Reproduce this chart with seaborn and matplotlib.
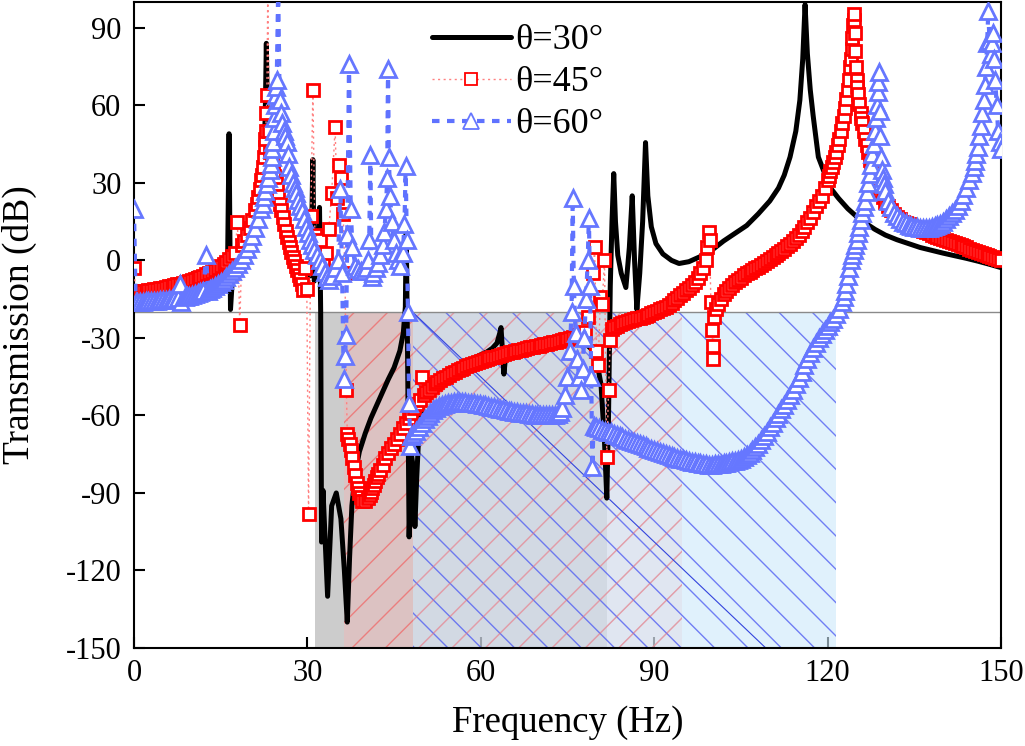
import matplotlib
matplotlib.use("Agg")
import matplotlib.pyplot as plt
import pandas as pd
import seaborn as sns

# ---------------- data ----------------
labels = ["θ=30°", "θ=45°", "θ=60°"]

# theta = 30 deg  (frequency Hz, transmission dB)
pts30 = [(0,-14),(1,-14),(2,-13.8),(3,-13.6),(4,-13.3),(5,-13),(6,-12.6),(7,-12.2),(8,-11.7),(9,-11.2),
         (9.8,-10.6),(10.2,-5),(10.5,-11),(11,-10),(12,-9),(13,-8),(14,-6.8),(15,-5.3),(15.8,-3.5),(16.2,0),
         (16.45,49),(16.7,-19),(17,-8),(17.5,-3),(18,0),(18.5,2.5),(19,5),(19.5,7.5),(20,10.5),(20.5,14),
         (21,18),(21.5,23),(22,30),(22.4,40),(22.7,55),(22.9,84),(23.1,55),(23.4,40),(23.8,32),(24.3,25),
         (25,18),(25.7,12),(26.5,7),(27.3,3),(28,0),(29,-3),(30,-5),(30.6,-6),(30.95,39),(31.2,-8),
         (31.5,-2),(31.8,4),(32.1,20.5),(32.3,-20),(32.45,-109),(32.7,-89),(33.5,-130),(34.2,-95),(35,-90),
         (35.8,-100),(36.4,-120),(36.9,-140),(37.3,-115),(37.7,-95),(38.3,-82),(39,-74),(40,-67),(41,-61),
         (42,-56),(43,-51),(44,-46),(45,-41.5),(46,-35),(46.6,-28),(46.95,-18),(47.1,13),(47.35,-40),
         (47.6,-107),(48,-75),(48.3,-80),(48.6,-103),(48.9,-85),(49.4,-61),(50,-56),(51,-52),(52,-49),
         (53,-47),(54,-45),(55,-43),(56,-41.5),(57,-40),(58,-38.8),(59,-37.6),(60,-36.5),(61,-35.5),
         (62,-34),(62.8,-32),(63.3,-28),(63.5,-26),(63.7,-33),(64,-44),(64.3,-37),(65,-36),(66,-35),
         (68,-33.5),(70,-32.5),(72,-31.5),(74,-30.5),(76,-30),(77,-30.5),(78,-32),(79,-34),(79.9,-37),
         (80.8,-48),(81.4,-70),(81.8,-92),(82.1,-60),(82.4,-10),(82.7,15),(83,33.6),(83.3,15),(83.7,2),
         (84.3,-5),(85.1,-10.5),(85.7,5),(86.2,25),(86.6,0),(87,-19),(87.5,-5),(88,15),(88.5,45.6),
         (88.9,25),(89.5,13),(90.3,6.5),(91.5,2.5),(93,0),(94.3,-1.2),(96,-0.5),(97.7,1.2),(99,2.5),
         (100,4),(102,7.5),(104,10.5),(106,13.5),(108,18),(110,23),(111.5,28),(112.5,33),(113.5,40),
         (114.5,50),(115.2,62),(115.7,78),(116.1,99),(116.5,80),(117,66),(117.5,56),(118.4,40),(119.6,33),
         (120.5,28),(121.9,24),(123.5,20),(125,17),(126.5,14.5),(128.2,12),(130,9.8),(132,8),(134,6.5),
         (136,5),(138,3.9),(140,2.8),(142,1.8),(144,0.8),(146,-0.3),(148,-1.5),(150,-2.8)]

# theta = 45 deg
pts45 = [(0,-3),(0.3,-12),(1,-12),(1.5,-11.8),(2,-11.7),(2.5,-11.6),(3,-11.4),(3.5,-11.2),(4,-11),
         (4.5,-10.8),(5,-10.5),(5.5,-10.3),(6,-10),(6.5,-9.8),(7,-9.5),(7.5,-9.2),(8,-9),(8.5,-8.6),
         (9,-8.3),(9.5,-7.9),(10,-7.5),(10.5,-7.1),(11,-6.7),(11.5,-6.3),(12,-5.9),(12.5,-5.4),(13,-4.9),
         (13.5,-4.3),(14,-3.7),(14.5,-3),(15,-2.3),(15.5,-1.5),(16,-0.6),(16.5,0.4),(17,1.6),(17.5,3),
         (17.9,15),(18.3,-25),(18.7,5.8),(19,7.5),(19.5,9.8),(20,12.5),(20.5,15.5),(21,19.5),(21.25,22),
         (21.5,24.5),(21.75,27.5),(22,31),(22.15,33),(22.3,36),(22.45,40),(22.6,44),(22.7,47),(22.8,50),
         (22.9,57),(23,64),(23.15,105),(23.4,50),(23.6,42),(23.8,38),(24,35),(24.25,32.5),(24.5,30),
         (24.75,27.5),(25,25),(25.25,22),(25.5,19.5),(25.75,16.7),(26,14),(26.25,11.5),(26.5,9),(26.75,7),
         (27,5),(27.25,3.2),(27.5,1.5),(27.75,-0.3),(28,-2),(28.25,-3.8),(28.5,-5.5),(28.75,-7.2),(29,-9),
         (29.3,-11.5),(29.6,-3),(29.9,-11),(30.2,-98),(30.6,17),(30.95,66),(31.3,10),(31.7,5),(32.2,8),
         (32.7,0),(33.2,3),(33.7,12),(34.2,26),(34.8,51.5),(35.1,24),(35.5,37),(35.9,32),(36.2,18),
         (36.5,-5),(36.75,-50),(36.9,-67),(37.1,-69),(37.3,-71),(37.5,-73.5),(37.75,-76.5),(38,-80),
         (38.25,-83),(38.5,-86),(38.75,-88),(39,-90),(39.25,-91.5),(39.5,-93),(40,-93),(40.5,-92),
         (40.75,-90.8),(41,-89.5),(41.25,-88.2),(41.5,-87),(41.75,-85.5),(42,-84),(42.25,-82.5),(42.5,-81),
         (43,-79),(43.5,-76.5),(44,-74.5),(44.5,-72.5),(45,-71),(45.5,-69),(46,-67),(46.5,-65),(47,-63),
         (47.5,-61),(48,-59),(48.5,-57),(49,-55.5),(49.5,-54),(49.9,-45),(50.2,-52),(50.6,-51),(51,-50),
         (51.5,-49),(52,-48),(52.5,-47.1),(53,-46.3),(53.5,-45.6),(54,-45),(54.5,-44.3),(55,-43.7),
         (55.5,-43.1),(56,-42.5),(56.5,-42),(57,-41.5),(57.5,-41),(58,-40.5),(58.5,-40.1),(59,-39.7),
         (59.5,-39.3),(60,-39),(60.5,-38.6),(61,-38.2),(61.5,-37.8),(62,-37.5),(62.5,-37.2),(63,-36.9),
         (63.5,-36.6),(64,-36.3),(64.5,-35.9),(65,-35.6),(65.5,-35.3),(66,-35),(66.5,-34.7),(67,-34.5),
         (67.5,-34.2),(68,-34),(68.5,-33.7),(69,-33.5),(69.5,-33.2),(70,-33),(70.5,-32.7),(71,-32.5),
         (71.5,-32.2),(72,-32),(72.5,-31.7),(73,-31.4),(73.5,-31.1),(74,-30.8),(74.5,-30.5),(75,-30.3),
         (75.5,-30),(76,-29.8),(76.5,-29.4),(77,-29),(77.5,-28.5),(78,-27.8),(78.5,-22),(79,-15),(79.4,-5),
         (79.7,5),(80,-35),(80.3,-40.5),(80.7,-14),(81,-17),(81.4,0),(81.8,-76),(82.1,-50),(82.4,-31),
         (82.7,-26.5),(83,-25.8),(83.5,-25.2),(84,-24.6),(84.5,-24.2),(85,-23.8),(85.5,-23.4),(86,-23),
         (86.5,-22.7),(87,-22.4),(87.5,-22.1),(88,-21.8),(88.5,-21.4),(89,-21),(89.5,-20.5),(90,-20),
         (90.5,-19.5),(91,-19),(91.5,-18.5),(92,-18),(92.5,-17.3),(93,-16.5),(93.5,-15.5),(94,-14.5),
         (94.5,-13.5),(95,-12.5),(95.5,-11.5),(96,-10.5),(96.5,-9.5),(97,-8.5),(97.5,-7),(98,-5),(98.5,-3),
         (98.9,0),(99.2,5),(99.4,11),(99.6,8),(99.8,-16),(100,-27),(100.1,-33),(100.2,-38),(100.4,-22),
         (100.7,-19),(101,-17),(101.5,-15),(102,-13),(102.5,-11.7),(103,-10.5),(103.5,-9.5),(104,-8.5),
         (104.5,-7.6),(105,-6.7),(105.5,-5.8),(106,-5),(106.5,-4.3),(107,-3.7),(107.5,-3.1),(108,-2.5),
         (108.5,-1.7),(109,-1),(109.5,-0.2),(110,0.5),(110.5,1.2),(111,2),(111.5,2.7),(112,3.5),
         (112.5,4.5),(113,5.5),(113.5,6.5),(114,7.5),(114.5,8.7),(115,10),(115.5,11.5),(116,13),
         (116.5,14.7),(117,16.5),(117.5,18.7),(118,21),(118.5,23),(119,25),(119.5,28),(120,31),
         (120.25,32.7),(120.5,34.5),(120.75,36.2),(121,38),(121.25,40),(121.5,42),(121.75,44.5),(122,47),
         (122.25,50),(122.5,53),(122.75,56),(123,59),(123.25,62.5),(123.5,66),(123.7,70),(123.9,75),
         (124.05,78),(124.2,82),(124.3,86),(124.4,91),(124.5,93),(124.6,95.5),(124.7,88),(124.8,81),
         (124.9,75),(125,70),(125.15,67),(125.3,64.5),(125.5,60.5),(125.7,57),(125.85,55),(126,53),
         (126.25,50),(126.5,47),(126.75,44.5),(127,42),(127.25,39),(127.5,36),(127.75,34),(128,32),
         (128.5,29.3),(129,27),(129.5,24.5),(130,22.5),(130.5,21),(131,19.5),(131.5,18.1),(132,16.8),
         (132.5,15.9),(133,15),(133.5,14.5),(134,14),(134.5,13.5),(135,13),(135.5,12.5),(136,12),
         (136.5,11.5),(137,11),(137.5,10.5),(138,10),(138.5,9.5),(139,9),(139.5,8.6),(140,8.2),(140.5,7.8),
         (141,7.4),(141.5,7),(142,6.6),(142.5,6.2),(143,5.8),(143.5,5.4),(144,5),(144.5,4.6),(145,4.2),
         (145.5,3.8),(146,3.4),(146.5,3),(147,2.6),(147.5,2.2),(148,1.8),(148.5,1.4),(149,1),(149.5,0.5),
         (150,0)]

# theta = 60 deg
pts60 = [(0,20),(0.3,-16),(0.6,-16),(1,-16),(1.5,-16),(2,-15.9),(2.5,-15.85),(3,-15.8),(3.5,-15.7),
         (4,-15.6),(4.5,-15.5),(5,-15.4),(5.5,-15.25),(6,-15.1),(6.5,-14.95),(7,-14.8),(7.6,-14.5),
         (7.9,-9),(8.2,-16),(8.8,-14),(9.2,-13.8),(9.5,-13.6),(10,-13.3),(10.5,-13),(11,-12.6),(11.5,-12.2),
         (12,-11.8),(12.5,2),(12.8,-12),(13.2,-11),(13.5,-10.5),(14,-9.9),(14.5,-9.2),(15,-8.4),(15.5,-7.5),
         (16,-6.5),(16.5,-5.4),(17,-4.2),(17.5,-2.9),(18,-1.4),(18.5,0.3),(19,2.2),(19.5,4.3),(20,6.8),
         (20.5,9.5),(21,12.6),(21.5,16.2),(22,20),(22.25,22),(22.5,24.5),(22.75,27),(23,29.5),(23.25,32),
         (23.5,35),(23.65,37.5),(23.8,40),(23.95,43),(24.1,46),(24.2,50),(24.3,55),(24.4,60),(24.5,64),
         (24.6,67),(24.7,70),(24.95,105),(25.2,62),(25.4,57),(25.6,53),(25.9,50),(26.15,48),(26.4,46),
         (26.65,41),(26.9,36),(27.2,33),(27.5,30),(27.8,28),(28.1,26),(28.4,23.5),(28.7,21),(29,19),
         (29.4,16),(29.8,13),(30.15,10.5),(30.5,8),(30.85,6),(31.2,4),(31.6,2),(32.1,0),(32.5,-2),(33,-4.5),
         (33.4,-6.5),(33.8,-7.7),(34.3,-6),(34.8,-3),(35.3,0),(35.7,27.7),(36,-5),(36.3,-46),(36.5,-37),
         (36.7,-29),(36.9,10),(37.2,76),(37.5,20),(37.8,5),(38.3,-2),(38.8,-3.5),(39.3,-4),(39.8,-4),
         (40.2,-3),(40.5,0),(40.7,8),(40.9,40.6),(41.1,-6.4),(41.4,-5),(41.8,-3),(42.2,-1),(42.6,2),(43,6),
         (43.3,11),(43.6,20),(43.8,32),(43.95,74),(44.1,40),(44.3,25),(44.6,15),(44.9,8),(45.3,3),(45.7,0),
         (46.1,-2),(46.5,3),(46.8,14),(47,36.7),(47.2,8),(47.4,-20),(47.6,-55),(47.8,-72),(48,-68),
         (48.3,-67),(48.8,-66),(49.3,-64.5),(49.8,-63),(50.3,-61.5),(50.8,-60.2),(51.3,-59),(51.8,-58),
         (52.3,-57.1),(52.8,-56.4),(53.3,-55.9),(53.8,-55.5),(54.3,-55.2),(54.8,-55),(55.3,-54.9),
         (55.8,-54.8),(56.3,-54.8),(56.8,-54.8),(57.3,-54.9),(57.8,-55),(58.3,-55.1),(58.8,-55.2),
         (59.3,-55.4),(59.8,-55.6),(60.3,-55.9),(60.8,-56.1),(61.3,-56.4),(61.8,-56.6),(62.3,-56.9),
         (62.8,-57.1),(63.3,-57.4),(63.8,-57.6),(64.3,-57.9),(64.8,-58.1),(65.3,-58.3),(65.8,-58.5),
         (66.3,-58.7),(66.8,-58.9),(67.3,-59.1),(67.8,-59.2),(68.3,-59.4),(68.8,-59.5),(69.3,-59.7),
         (69.8,-59.8),(70.3,-59.9),(70.8,-60),(71.3,-60),(71.8,-60),(72.3,-60),(72.8,-59.9),(73.3,-59.4),
         (73.7,-58.5),(74,-57),(74.5,-52),(75,-45),(75.4,-35),(75.7,-20),(75.9,24),(76.1,-10),(76.4,-28),
         (76.7,-38),(77,-45),(77.3,-50),(77.6,-42),(77.9,-30),(78.2,-15),(78.5,0),(78.7,16.6),(78.9,-10),
         (79.1,-45),(79.3,-80),(79.5,-64),(80,-64.5),(80.5,-65),(81,-65.5),(81.5,-65.9),(82,-66.3),
         (82.5,-66.6),(83,-67),(83.5,-67.5),(84,-68),(84.5,-68.5),(85,-69),(85.5,-69.4),(86,-69.8),
         (86.5,-70.2),(87,-70.7),(87.5,-71.1),(88,-71.6),(88.5,-72),(89,-72.5),(89.5,-72.9),(90,-73.3),
         (90.5,-73.6),(91,-74),(91.5,-74.4),(92,-74.8),(92.5,-75.2),(93,-75.6),(93.5,-76),(94,-76.3),
         (94.5,-76.7),(95,-77),(95.5,-77.3),(96,-77.6),(96.5,-77.9),(97,-78.2),(97.5,-78.4),(98,-78.6),
         (98.5,-78.8),(99,-78.9),(99.5,-79),(100,-79),(100.5,-78.9),(101,-78.8),(101.5,-78.7),(102,-78.5),
         (102.5,-78.3),(103,-78),(103.5,-77.8),(104,-77.5),(104.5,-77.2),(105,-76.8),(105.5,-76.2),
         (106,-75.5),(106.5,-74.6),(107,-73.5),(107.5,-72.3),(108,-71),(108.5,-69.5),(109,-68),
         (109.5,-66.3),(110,-64.5),(110.5,-62.8),(111,-61),(111.5,-59.3),(112,-57.5),(112.5,-55.8),(113,-54),
         (113.5,-52),(114,-50),(114.5,-47.8),(115,-45.5),(115.5,-43),(116,-40.5),(116.5,-38.2),(117,-36),
         (117.5,-34),(118,-32),(118.5,-30.2),(119,-28.5),(119.5,-27),(120,-25.5),(120.5,-24),(121,-22.5),
         (121.5,-20.8),(122,-19),(122.5,-16),(122.75,-14),(123,-12),(123.25,-9),(123.5,-6),(123.75,-3),
         (124,0),(124.25,2),(124.5,4),(124.75,6),(125,8),(125.25,10.5),(125.5,13),(125.75,15.8),(126,18.5),
         (126.25,20.7),(126.5,23),(126.75,26.5),(127,30),(127.25,33.5),(127.5,37),(127.75,41),(128,45),
         (128.2,50),(128.4,55),(128.55,60),(128.7,65),(128.8,69),(128.9,73),(129,58),(129.1,48),(129.2,40),
         (129.4,35),(129.6,32),(129.8,29.5),(130,27),(130.5,23),(131,20.5),(131.5,18.5),(132,17),(132.5,16),
         (133,15),(133.5,14.3),(134,13.8),(134.5,13.4),(135,13),(135.5,12.8),(136,12.6),(136.5,12.5),
         (137,12.5),(137.5,12.6),(138,12.8),(138.5,13.2),(139,13.6),(139.5,14.2),(140,15),(140.5,16),
         (141,17),(141.5,18.2),(142,19.5),(142.5,21.2),(143,23),(143.5,25.5),(144,28),(144.5,31),(145,34),
         (145.25,36),(145.5,38.5),(145.75,41),(146,44),(146.25,48),(146.5,52),(146.75,57),(147,62),
         (147.2,68),(147.4,75),(147.6,84),(147.8,96.6),(148,85),(148.2,80),(148.4,84),(148.6,88),(148.8,78),
         (149,70),(149.25,60),(149.5,50),(149.75,46),(150,43)]

# stop bands (frequency ranges) drawn below the -20 dB level
band30 = [31.4, 81.8]
band45 = [36.3, 94.8]
band60 = [48.2, 121.5]
band_top = -20
band_bottom = -150
guide_f = [48.2, 109.3]      # thin diagonal stroke seen inside the blue band
guide_db = [-20, -150]

xticks = [0, 30, 60, 90, 120, 150]
yticks = [-150, -120, -90, -60, -30, 0, 30, 60, 90]

# ---------------- style ----------------
sns.set_style("ticks")
plt.rcParams['font.family'] = ['Liberation Serif', 'DejaVu Serif']
plt.rcParams['axes.unicode_minus'] = False
plt.rcParams['hatch.linewidth'] = 1.0
for key in ['text.color', 'axes.labelcolor', 'xtick.color', 'ytick.color', 'axes.edgecolor']:
    plt.rcParams[key] = 'black'

fig = plt.figure(figsize=(10.25, 7.46), dpi=100)
ax = fig.add_axes([0.1307, 0.1314, 0.8459, 0.8659])

# stop-band shading
ax.fill_between(band30, band_bottom, band_top, facecolor='#cccccc', edgecolor='none', lw=0, zorder=0.5)
ax.fill_between(band45, band_bottom, band_top, facecolor=(1.0, 0.68, 0.68, 0.32),
                edgecolor=(0.93, 0.45, 0.45, 0.85), hatch='/', lw=0, zorder=0.6)
ax.fill_between(band60, band_bottom, band_top, facecolor=(0.80, 0.915, 0.98, 0.6),
                edgecolor=(0.33, 0.38, 0.95, 0.8), hatch='\\', lw=0, zorder=0.7)
# the red hatch stays visible through the blue band where both bands overlap
overlap = [max(band45[0], band60[0]), min(band45[1], band60[1])]
ax.fill_between(overlap, band_bottom, band_top, facecolor='none',
                edgecolor=(0.93, 0.45, 0.5, 0.45), hatch='/', lw=0, zorder=0.75)
ax.plot(guide_f, guide_db, color='#3344dd', lw=0.8, zorder=0.8)
ax.axhline(band_top, color='#8a8a8a', lw=1.0, zorder=1)

df30 = pd.DataFrame(pts30, columns=['f', 'T'])
df45 = pd.DataFrame(pts45, columns=['f', 'T'])
df60 = pd.DataFrame(pts60, columns=['f', 'T'])

sns.lineplot(data=df30, x='f', y='T', ax=ax, color='black', lw=3.6, label=labels[0],
             sort=False, estimator=None, zorder=3)
sns.lineplot(data=df45, x='f', y='T', ax=ax, color='#ff8080', lw=1.0, linestyle=(0, (1.5, 2.5)),
             marker='s', markersize=9, markerfacecolor='white', markeredgecolor='#ff0000',
             markeredgewidth=2.0, label=labels[1], sort=False, estimator=None, zorder=4)
sns.lineplot(data=df60, x='f', y='T', ax=ax, color='#5f72ff', lw=3.0, linestyle=(0, (1.8, 1.8)),
             marker='^', markersize=11, markerfacecolor='white', markeredgecolor='#6677ff',
             markeredgewidth=2.0, label=labels[2], sort=False, estimator=None, zorder=5)

ax.set_xlim(0, 150)
ax.set_ylim(-150, 100)
ax.set_xticks(xticks)
ax.set_yticks(yticks)
ax.tick_params(direction='in', length=8, width=1.5, labelsize=22, colors='black')
ax.tick_params(axis='x', pad=8)
ax.tick_params(axis='y', pad=9)
for s in ax.spines.values():
    s.set_linewidth(1.5)
    s.set_color('black')

ax.set_xlabel('Frequency (Hz)', fontsize=26.5)
ax.set_ylabel('Transmission (dB)', fontsize=27)
ax.xaxis.set_label_coords(0.5, -0.089)
ax.yaxis.set_label_coords(-0.112, 0.5)

leg = ax.legend(loc='upper left', bbox_to_anchor=(0.344, 0.966), frameon=False, fontsize=26,
                handlelength=2.17, handletextpad=0.12, labelspacing=0.24, borderaxespad=0, borderpad=0)
for h in leg.legend_handles:
    h.set_markeredgewidth(1.3)

fig.savefig('out.png', dpi=100)
